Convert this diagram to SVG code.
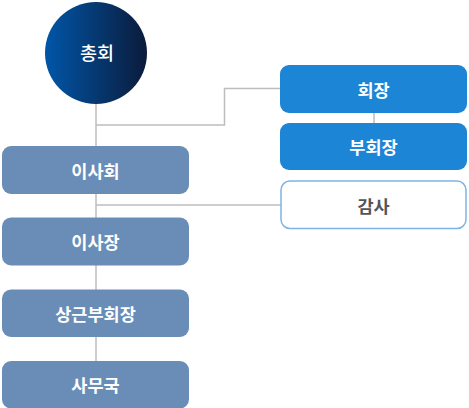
<svg xmlns="http://www.w3.org/2000/svg" width="469" height="408" viewBox="0 0 469 408">
<defs>
<linearGradient id="g" x1="0" y1="0" x2="1" y2="0">
<stop offset="0" stop-color="#0056a8"/>
<stop offset="1" stop-color="#0b1b3b"/>
</linearGradient>
<style>
.t{font-family:"Noto Sans CJK KR","Noto Sans",sans-serif;font-size:17.5px;font-weight:bold;fill:#fff;text-anchor:middle;dominant-baseline:central}
.l{fill:#6a8db7}
.b{fill:#1c85d6}
.c{fill:none;stroke:#bdbdbd;stroke-width:1.5}
</style>
</defs>
<g id="connectors">
<path class="c" d="M96 104V363"/>
<path class="c" d="M96 125H224.5V88.5H280"/>
<path class="c" d="M96 205H281"/>
<path class="c" d="M374 112V123"/>
</g>
<g id="n-chonghoe"><circle cx="96" cy="53" r="51" fill="url(#g)"/><text class="t" x="97" y="52" style="font-weight:500;font-size:18.5px">총회</text></g>
<g id="n-isahoe"><rect class="l" x="2" y="146" width="187" height="48" rx="9"/><text class="t" x="95.5" y="170">이사회</text></g>
<g id="n-isajang"><rect class="l" x="2" y="217.5" width="187" height="48" rx="9"/><text class="t" x="95.5" y="241.5">이사장</text></g>
<g id="n-sanggeun"><rect class="l" x="2" y="289.5" width="187" height="47.5" rx="9"/><text class="t" x="95.5" y="313">상근부회장</text></g>
<g id="n-samuguk"><rect class="l" x="2" y="361" width="187" height="47.5" rx="9"/><text class="t" x="95.5" y="384.5">사무국</text></g>
<g id="n-hoejang"><rect class="b" x="280" y="65" width="187" height="48" rx="9"/><text class="t" x="373.5" y="89">회장</text></g>
<g id="n-buhoejang"><rect class="b" x="280" y="123" width="187" height="47" rx="9"/><text class="t" x="373.5" y="146.5">부회장</text></g>
<g id="n-gamsa"><rect x="281" y="181" width="185" height="47.5" rx="9" fill="#fff" stroke="#7db4e6" stroke-width="1.5"/><text class="t" x="373.5" y="205" style="fill:#555">감사</text></g>
</svg>
